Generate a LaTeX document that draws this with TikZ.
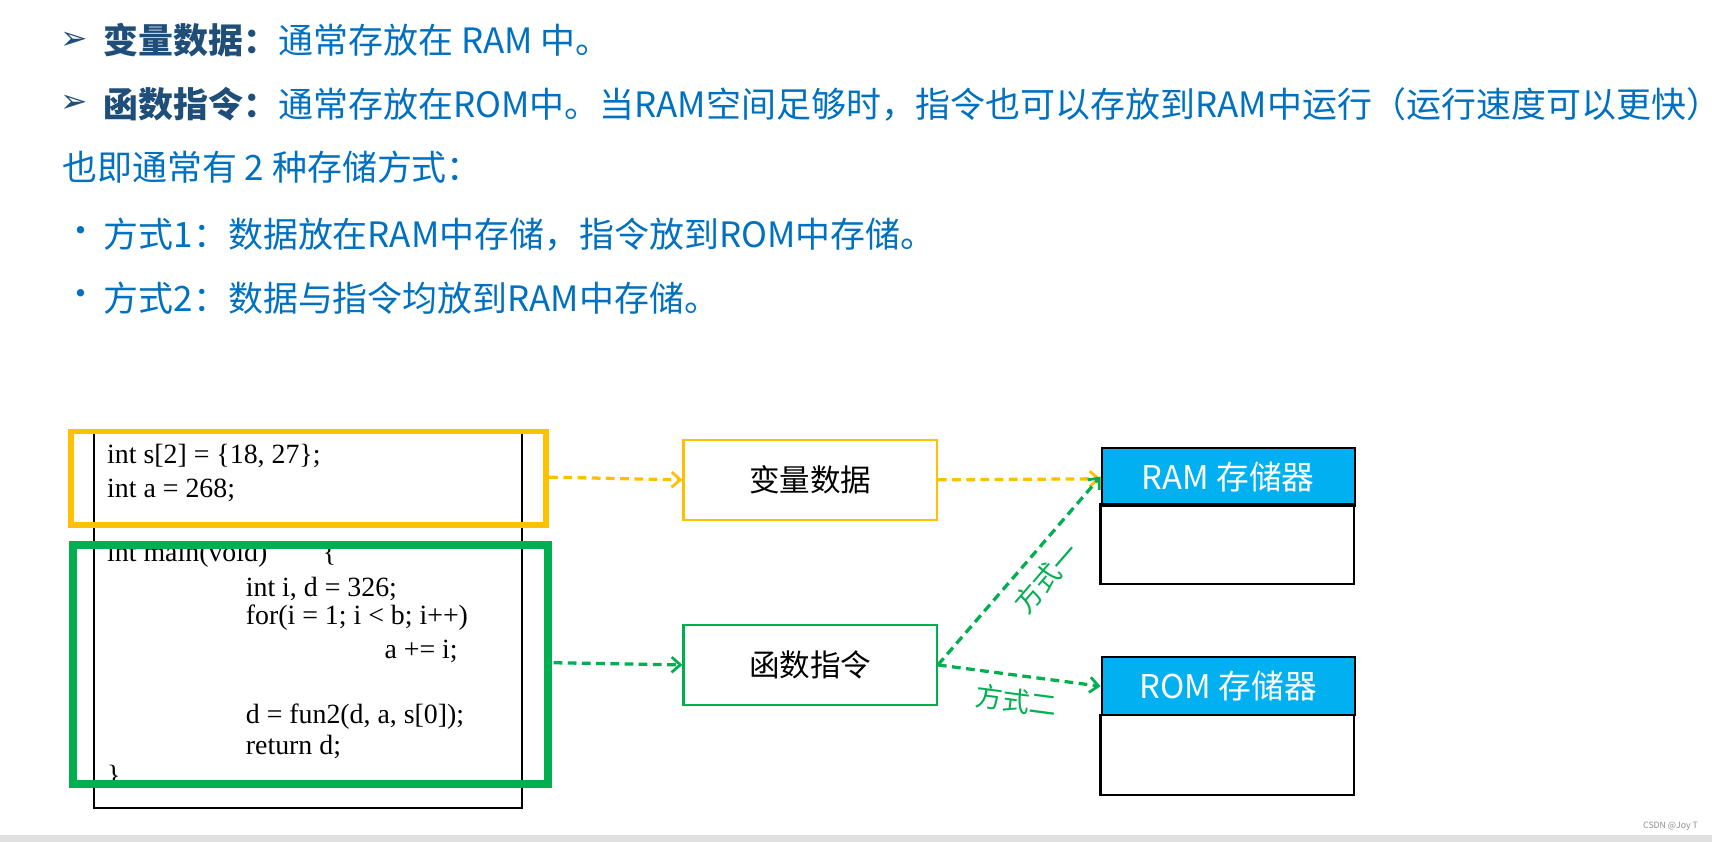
\documentclass[tikz,border=0pt]{standalone}
\usepackage{fontspec}
\setmainfont{Noto Sans CJK SC}
\newfontfamily\codef{Liberation Serif}
\newfontfamily\symf{DejaVu Sans}
\usetikzlibrary{arrows.meta}
\definecolor{hb}{HTML}{0070C0}
\definecolor{hd}{HTML}{1F4E79}
\definecolor{og}{HTML}{FFC000}
\definecolor{gn}{HTML}{00B050}
\definecolor{sky}{HTML}{00B0F0}
\begin{document}
\begin{tikzpicture}[x=1pt,y=-1pt,
  hd/.style={anchor=west,font=\fontsize{32}{32}\selectfont,text=hb,inner sep=0},
  sym/.style={anchor=center,font=\symf\fontsize{30}{30}\selectfont,text=hd,inner sep=0},
  code/.style={anchor=west,font=\codef\fontsize{25.5}{25.5}\selectfont,inner sep=0},
  lbox/.style={draw,line width=2pt,minimum width=232pt,minimum height=73pt,font=\fontsize{28}{28}\selectfont},
  arr/.style={line width=3pt,dash pattern=on 8pt off 5pt,-{Straight Barb[length=8pt,width=14pt,line width=2.5pt]}},
  mem/.style={draw,line width=2pt,minimum width=232pt,minimum height=53pt,fill=sky,text=white,font=\fontsize{30}{30}\selectfont},
  way/.style={sloped,below=9pt,font=\fontsize{25}{25}\selectfont,text=gn,inner sep=1pt}]
\useasboundingbox (0,0) rectangle (1568,771);
\fill[black!12] (0,765) rectangle (1568,771);
\node[sym] (a1) at (68,37) {➢};
\node[hd] (h1) at (95,37) {\textbf{\color{hd}变量数据：}通常存放在 RAM 中。};
\node[sym] (a2) at (68,95) {➢};
\node[hd] (h2) at (95,95) {\textbf{\color{hd}函数指令：}通常存放在ROM中。当RAM空间足够时，指令也可以存放到RAM中运行（运行速度可以更快）};
\node[hd] (h3) at (57,153) {也即通常有 2 种存储方式：};
\node[hd] (d1) at (58,215) {•};
\node[hd] (b1) at (95,215) {方式1：数据放在RAM中存储，指令放到ROM中存储。};
\node[hd] (d2) at (58,273) {•};
\node[hd] (b2) at (95,273) {方式2：数据与指令均放到RAM中存储。};
% code box
\draw[line width=2pt] (86,395) rectangle (478,740);
\node[code] (c1) at (98,418) {int s[2] = \{18, 27\};};
\node[code] (c2) at (98,449) {int a = 268;};
\node[code] (c3) at (98,508) {int main(void)\qquad\{};
\node[code] (c4) at (225,539) {int i, d = 326;};
\node[code] (c5) at (225,566) {for(i = 1; i < b; i++)};
\node[code] (c6) at (352,597) {a += i;};
\node[code] (c7) at (225,656) {d = fun2(d, a, s[0]);};
\node[code] (c8) at (225,684) {return d;};
\node[code] (c9) at (98,711) {\}};
\draw[og,line width=5pt] (65,395) rectangle (500,481);
\draw[gn,line width=7pt] (67,499) rectangle (502,718);
\coordinate (oa) at (503,437);
\coordinate (ga) at (507,607);
\node[lbox,draw=og] (var) at (742,439.5) {变量数据};
\node[lbox,draw=gn] (fun) at (742,609) {函数指令};
\node[mem,anchor=north west] (ram) at (1008,409) {RAM 存储器};
\draw[line width=2pt] (1008,462) rectangle (1240,535);
\node[mem,anchor=north west] (rom) at (1008,601) {ROM 存储器};
\draw[line width=2pt] (1008,655) rectangle (1240,728);
\draw[arr,og] (oa) -- (var.west);
\draw[arr,og] (var.east) -- ([yshift=-2pt]ram.west);
\draw[arr,gn] (ga) -- (fun.west);
\draw[arr,gn] (fun.east) -- node[way,pos=0.55]{方式一} (ram.west);
\draw[arr,gn] (fun.east) -- node[way,pos=0.5]{方式二} (rom.west);
\node[text=black!45,font=\fontsize{8}{8}\selectfont] (wm) at (1530,757) {CSDN @Joy T};
\end{tikzpicture}
\end{document}
